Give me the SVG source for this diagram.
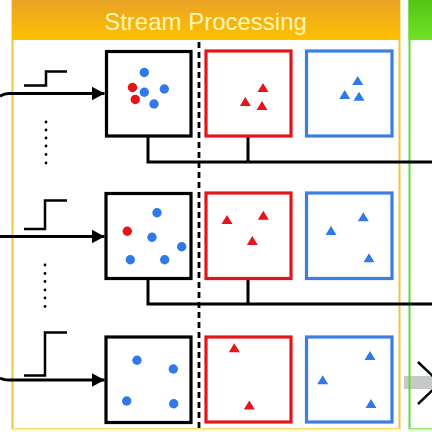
<svg xmlns="http://www.w3.org/2000/svg" width="432" height="432" viewBox="0 0 432 432">
<defs>
<linearGradient id="og" x1="0" y1="0" x2="0" y2="1"><stop offset="0" stop-color="#e9a326"/><stop offset="1" stop-color="#ffc000"/></linearGradient>
<linearGradient id="gg" x1="0" y1="0" x2="0" y2="1"><stop offset="0" stop-color="#55c414"/><stop offset="1" stop-color="#6fe228"/></linearGradient>
<marker id="ah" markerWidth="13" markerHeight="14" refX="13" refY="7" orient="auto" markerUnits="userSpaceOnUse"><path d="M0,0 L13,7 L0,14 Z" fill="#000"/></marker>
<style>
.bx{fill:#fff;stroke:#000;stroke-width:3.2}
.rb{fill:#fff;stroke:#e3141c;stroke-width:3.2}
.bb{fill:#fff;stroke:#3b7fe3;stroke-width:3.2}
.rd{fill:#e3141c}
.bd{fill:#2f7ae8}
.ln{fill:none;stroke:#000;stroke-width:3}
.st{fill:none;stroke:#000;stroke-width:2.5}
.dt{fill:#000}
</style>
</defs>
<g id="stream-panel">
<rect x="12.5" y="-2" width="387" height="431" fill="#fff" stroke="#f2c240" stroke-width="2"/>
<line x1="12" y1="429.5" x2="400" y2="429.5" stroke="#fff4a8" stroke-width="2"/>
<rect x="12" y="0" width="388" height="40" fill="url(#og)"/>
<text x="205.5" y="30" font-family="Liberation Sans, Arial, sans-serif" font-size="24" fill="#fff6b0" text-anchor="middle">Stream Processing</text>
</g>
<g id="next-panel">
<rect x="404" y="376" width="30" height="13" fill="#c5c9c8"/>
<rect x="409.5" y="-2" width="30" height="431" fill="none" stroke="#66d836" stroke-width="2"/>
<line x1="409" y1="429.5" x2="432" y2="429.5" stroke="#c8f5b0" stroke-width="2"/>
<rect x="408.5" y="0" width="30" height="40" fill="url(#gg)"/>
<path d="M418,362 L440,383 L418,404" fill="none" stroke="#000" stroke-width="2.5"/>
</g>
<g id="connectors">
<line x1="199" y1="42" x2="199" y2="432" stroke="#000" stroke-width="2.8" stroke-dasharray="6,4"/>
<path class="ln" d="M148,137 V162 M248,137 V162 M146.5,162 H432"/>
<path class="ln" d="M148,280 V304 M248,280 V304 M146.5,304 H432"/>
<path class="ln" d="M0,96.5 Q3,93.5 9,93.5 L104.5,93.5" marker-end="url(#ah)"/>
<path class="ln" d="M0,236.5 L104.5,236.5" marker-end="url(#ah)"/>
<path class="ln" d="M0,378 Q3,380 9,380 L104.5,380" marker-end="url(#ah)"/>
<path class="st" d="M24,85.5 H46 V71.5 H67"/>
<path class="st" d="M24,229 H45 V200.5 H67"/>
<path class="st" d="M24,375.5 H45 V332.5 H67"/>
<g class="dt">
<circle cx="46" cy="122" r="1.4"/><circle cx="46" cy="130" r="1.4"/><circle cx="46" cy="138" r="1.4"/><circle cx="46" cy="146" r="1.4"/><circle cx="46" cy="154.5" r="1.4"/><circle cx="46" cy="163" r="1.4"/>
<circle cx="45" cy="265" r="1.4"/><circle cx="45" cy="273.5" r="1.4"/><circle cx="45" cy="281.5" r="1.4"/><circle cx="45" cy="290" r="1.4"/><circle cx="45" cy="298" r="1.4"/><circle cx="45" cy="306.5" r="1.4"/>
</g>
</g>
<g id="input-1">
<rect class="bx" x="106.5" y="51.5" width="84.5" height="84.5"/>
<circle class="bd" cx="144.3" cy="72.5" r="4.7"/><circle class="rd" cx="132.5" cy="87.5" r="4.7"/><circle class="bd" cx="144.3" cy="92.3" r="4.7"/><circle class="bd" cx="164.3" cy="89" r="4.7"/><circle class="rd" cx="135.3" cy="99.5" r="4.7"/><circle class="bd" cx="154" cy="104" r="4.7"/>
</g>
<g id="red-1">
<rect class="rb" x="206" y="51" width="85" height="85"/>
<path class="rd" d="M263,83 L268.5,92 L257.5,92 Z M245.3,97 L250.8,106 L239.8,106 Z M262,101 L267.5,110 L256.5,110 Z"/>
</g>
<g id="blue-1">
<rect class="bb" x="306.5" y="51" width="85.5" height="85"/>
<path class="bd" d="M357.7,76 L363.2,85 L352.2,85 Z M344.7,90 L350.2,99 L339.2,99 Z M359,91.7 L364.5,100.7 L353.5,100.7 Z"/>
</g>
<g id="input-2">
<rect class="bx" x="106" y="193.5" width="85" height="85"/>
<circle class="bd" cx="157" cy="212.7" r="4.7"/><circle class="rd" cx="127.3" cy="231.3" r="4.7"/><circle class="bd" cx="152" cy="237.3" r="4.7"/><circle class="bd" cx="181.7" cy="246.7" r="4.7"/><circle class="bd" cx="130.3" cy="259.7" r="4.7"/><circle class="bd" cx="164.7" cy="259.7" r="4.7"/>
</g>
<g id="red-2">
<rect class="rb" x="206" y="193" width="85" height="85.5"/>
<path class="rd" d="M227,215 L232.5,224 L221.5,224 Z M263.3,210.7 L268.8,219.7 L257.8,219.7 Z M252.3,236 L257.8,245 L246.8,245 Z"/>
</g>
<g id="blue-2">
<rect class="bb" x="306.5" y="193" width="85.5" height="85.5"/>
<path class="bd" d="M331,226 L336.5,235 L325.5,235 Z M363.3,212.3 L368.8,221.3 L357.8,221.3 Z M369,253.3 L374.5,262.3 L363.5,262.3 Z"/>
</g>
<g id="input-3">
<rect class="bx" x="106" y="337" width="85" height="85.5"/>
<circle class="bd" cx="137" cy="360.3" r="4.7"/><circle class="bd" cx="173.3" cy="369" r="4.7"/><circle class="bd" cx="126.7" cy="401" r="4.7"/><circle class="bd" cx="173.7" cy="403.7" r="4.7"/>
</g>
<g id="red-3">
<rect class="rb" x="206" y="337" width="85" height="85"/>
<path class="rd" d="M234.3,343.3 L239.8,352.3 L228.8,352.3 Z M249.3,400.5 L254.8,409.5 L243.8,409.5 Z"/>
</g>
<g id="blue-3">
<rect class="bb" x="306.5" y="337" width="85.5" height="85"/>
<path class="bd" d="M370,351 L375.5,360 L364.5,360 Z M322.7,375.3 L328.2,384.3 L317.2,384.3 Z M371,399 L376.5,408 L365.5,408 Z"/>
</g>
</svg>
